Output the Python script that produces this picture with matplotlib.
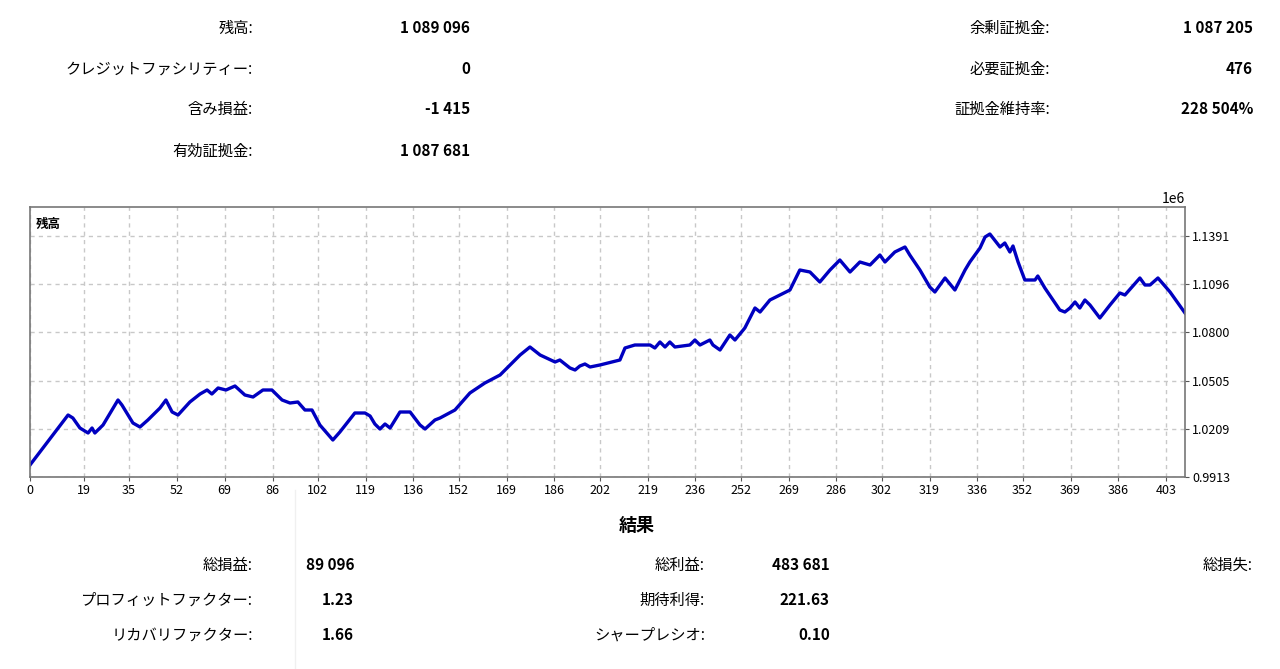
import matplotlib
matplotlib.use("Agg")
import matplotlib.pyplot as plt

plt.rcParams['font.family'] = ['Noto Sans CJK JP', 'DejaVu Sans']

# balance curve waypoints (trade number, balance)
trade = [0, 13.5, 15.2, 17.7, 20.6, 22, 23, 25.9, 31.2, 32.6, 36.5, 39, 41.8, 46.1, 48.2,
         50.4, 52.5, 56.7, 60.3, 62.8, 64.5, 66.7, 69.5, 72.7, 76.2, 79.1, 82.6, 85.8, 89.4,
         92.2, 95, 97.5, 100, 102.8, 107.4, 109.9, 115.2, 118.8, 120.6, 122.3, 124.1, 125.9,
         127.7, 131.2, 134.8, 138.3, 140.1, 143.6, 145.4, 150.7, 156, 161.3, 166.7, 173.8,
         177.3, 180.9, 186.2, 187.9, 191.5, 193.3, 195, 196.8, 198.6, 202.1, 209.2, 211,
         214.5, 219.9, 221.6, 223.4, 225.2, 226.9, 228.7, 234, 235.8, 237.6, 241.1, 242.2,
         244.7, 248.2, 250, 253.5, 257.1, 258.9, 262.4, 269.5, 273, 276.6, 280.1, 283.7,
         287.2, 290.8, 294.3, 297.9, 301.4, 303.2, 306.7, 310.3, 312, 315.6, 319.1, 320.9,
         324.5, 328, 331.6, 333.3, 336.9, 338.7, 340.4, 344, 345.7, 347.5, 348.6, 350.4,
         352.8, 356.4, 357.4, 359.9, 365.2, 367, 368.8, 370.6, 372.3, 374.1, 375.9, 379.4,
         383, 386.5, 388.3, 393.6, 395.4, 397.2, 400, 404.3, 409.6]
balance = [998683, 1029333, 1027494, 1021364, 1018299, 1021364, 1018299, 1023203, 1038528,
           1035463, 1024429, 1021977, 1026268, 1033624, 1038528, 1031172, 1029333, 1037302,
           1042206, 1044658, 1042206, 1045884, 1044658, 1047110, 1041593, 1040367, 1044658,
           1044658, 1038528, 1036689, 1037302, 1032398, 1032398, 1023203, 1014008, 1018912,
           1030559, 1030559, 1028720, 1023816, 1020751, 1023816, 1021364, 1031172, 1031172,
           1023203, 1020751, 1026268, 1027494, 1032398, 1042819, 1048949, 1053853, 1066113,
           1071017, 1066113, 1061822, 1063048, 1058144, 1056918, 1059370, 1060596, 1058757,
           1059983, 1063048, 1070404, 1072243, 1072243, 1070404, 1074082, 1071017, 1074082,
           1071017, 1072243, 1075308, 1072243, 1075308, 1072243, 1069178, 1078373, 1075308,
           1082664, 1094924, 1092472, 1099828, 1105958, 1118218, 1116992, 1110862, 1118218,
           1124348, 1116992, 1123122, 1121283, 1127413, 1123122, 1129252, 1132317, 1127413,
           1118218, 1107797, 1104732, 1113314, 1105958, 1118218, 1123122, 1131704, 1138447,
           1140286, 1132317, 1134769, 1129252, 1132930, 1123122, 1112088, 1112088, 1114540,
           1107184, 1093698, 1092472, 1094924, 1098602, 1094924, 1099828, 1096763, 1088794,
           1096763, 1104119, 1102893, 1113314, 1109023, 1109023, 1113314, 1104732, 1091859]
xticks = [0, 19, 35, 52, 69, 86, 102, 119, 136, 152, 169, 186, 202, 219, 236, 252, 269,
          286, 302, 319, 336, 352, 369, 386, 403]
yticks = [991327, 1020891, 1050456, 1080020, 1109584, 1139149]

top_left = [("残高:", "1 089 096"), ("クレジットファシリティー:", "0"),
            ("含み損益:", "-1 415"), ("有効証拠金:", "1 087 681")]
top_right = [("余剰証拠金:", "1 087 205"), ("必要証拠金:", "476"), ("証拠金維持率:", "228 504%")]
res_col1 = [("総損益:", "89 096"), ("プロフィットファクター:", "1.23"), ("リカバリファクター:", "1.66")]
res_col2 = [("総利益:", "483 681"), ("期待利得:", "221.63"), ("シャープレシオ:", "0.10")]

W, H = 1280, 669
fig = plt.figure(figsize=(12.8, 6.69), dpi=100)

def t(x, y, s, size=11, **kw):
    fig.text(x / W, 1 - y / H, s, va='center', fontsize=size, **kw)

rows = [28, 69, 109, 151]
for (lab, val), y in zip(top_left, rows):
    t(253, y, lab, ha='right')
    t(470, y, val, ha='right', fontweight='bold')
for (lab, val), y in zip(top_right, rows):
    t(1050, y, lab, ha='right')
    t(1253, y, val, ha='right', fontweight='bold')

t(637, 525, "結果", size=13, ha='center', fontweight='bold')
rows2 = [565, 600, 635]
for (lab, val), y in zip(res_col1, rows2):
    t(253, y, lab, ha='right')
    t(354, y, val, ha='right', fontweight='bold')
for (lab, val), y in zip(res_col2, rows2):
    t(705, y, lab, ha='right')
    t(830, y, val, ha='right', fontweight='bold')
t(1253, 565, "総損失:", ha='right')

# faint separator below the chart
fig.add_artist(plt.Line2D([295 / W, 295 / W], [0, 1 - 490 / H], color='#f0f0f0', lw=1))

ax = fig.add_axes([30 / W, 1 - 477 / H, 1155 / W, 270 / H])
ax.plot(trade, balance, color='#0000c0', lw=2.4)
ax.set_xlim(0, 409.6)
ax.set_ylim(991327, 1156837)
ax.set_xticks(xticks)
ax.set_yticks(yticks)
ax.yaxis.tick_right()
ax.tick_params(labelsize=9, length=3, color='#555555', pad=2)
ax.grid(True, color='#c8c8c8', linestyle=(0, (3, 3)), lw=1)
for s in ax.spines.values():
    s.set_color('#777777')
    s.set_linewidth(1.2)
ax.text(0.005, 0.96, "残高", transform=ax.transAxes, fontsize=9, fontweight='bold', va='top')

fig.savefig("out.png", dpi=100)
